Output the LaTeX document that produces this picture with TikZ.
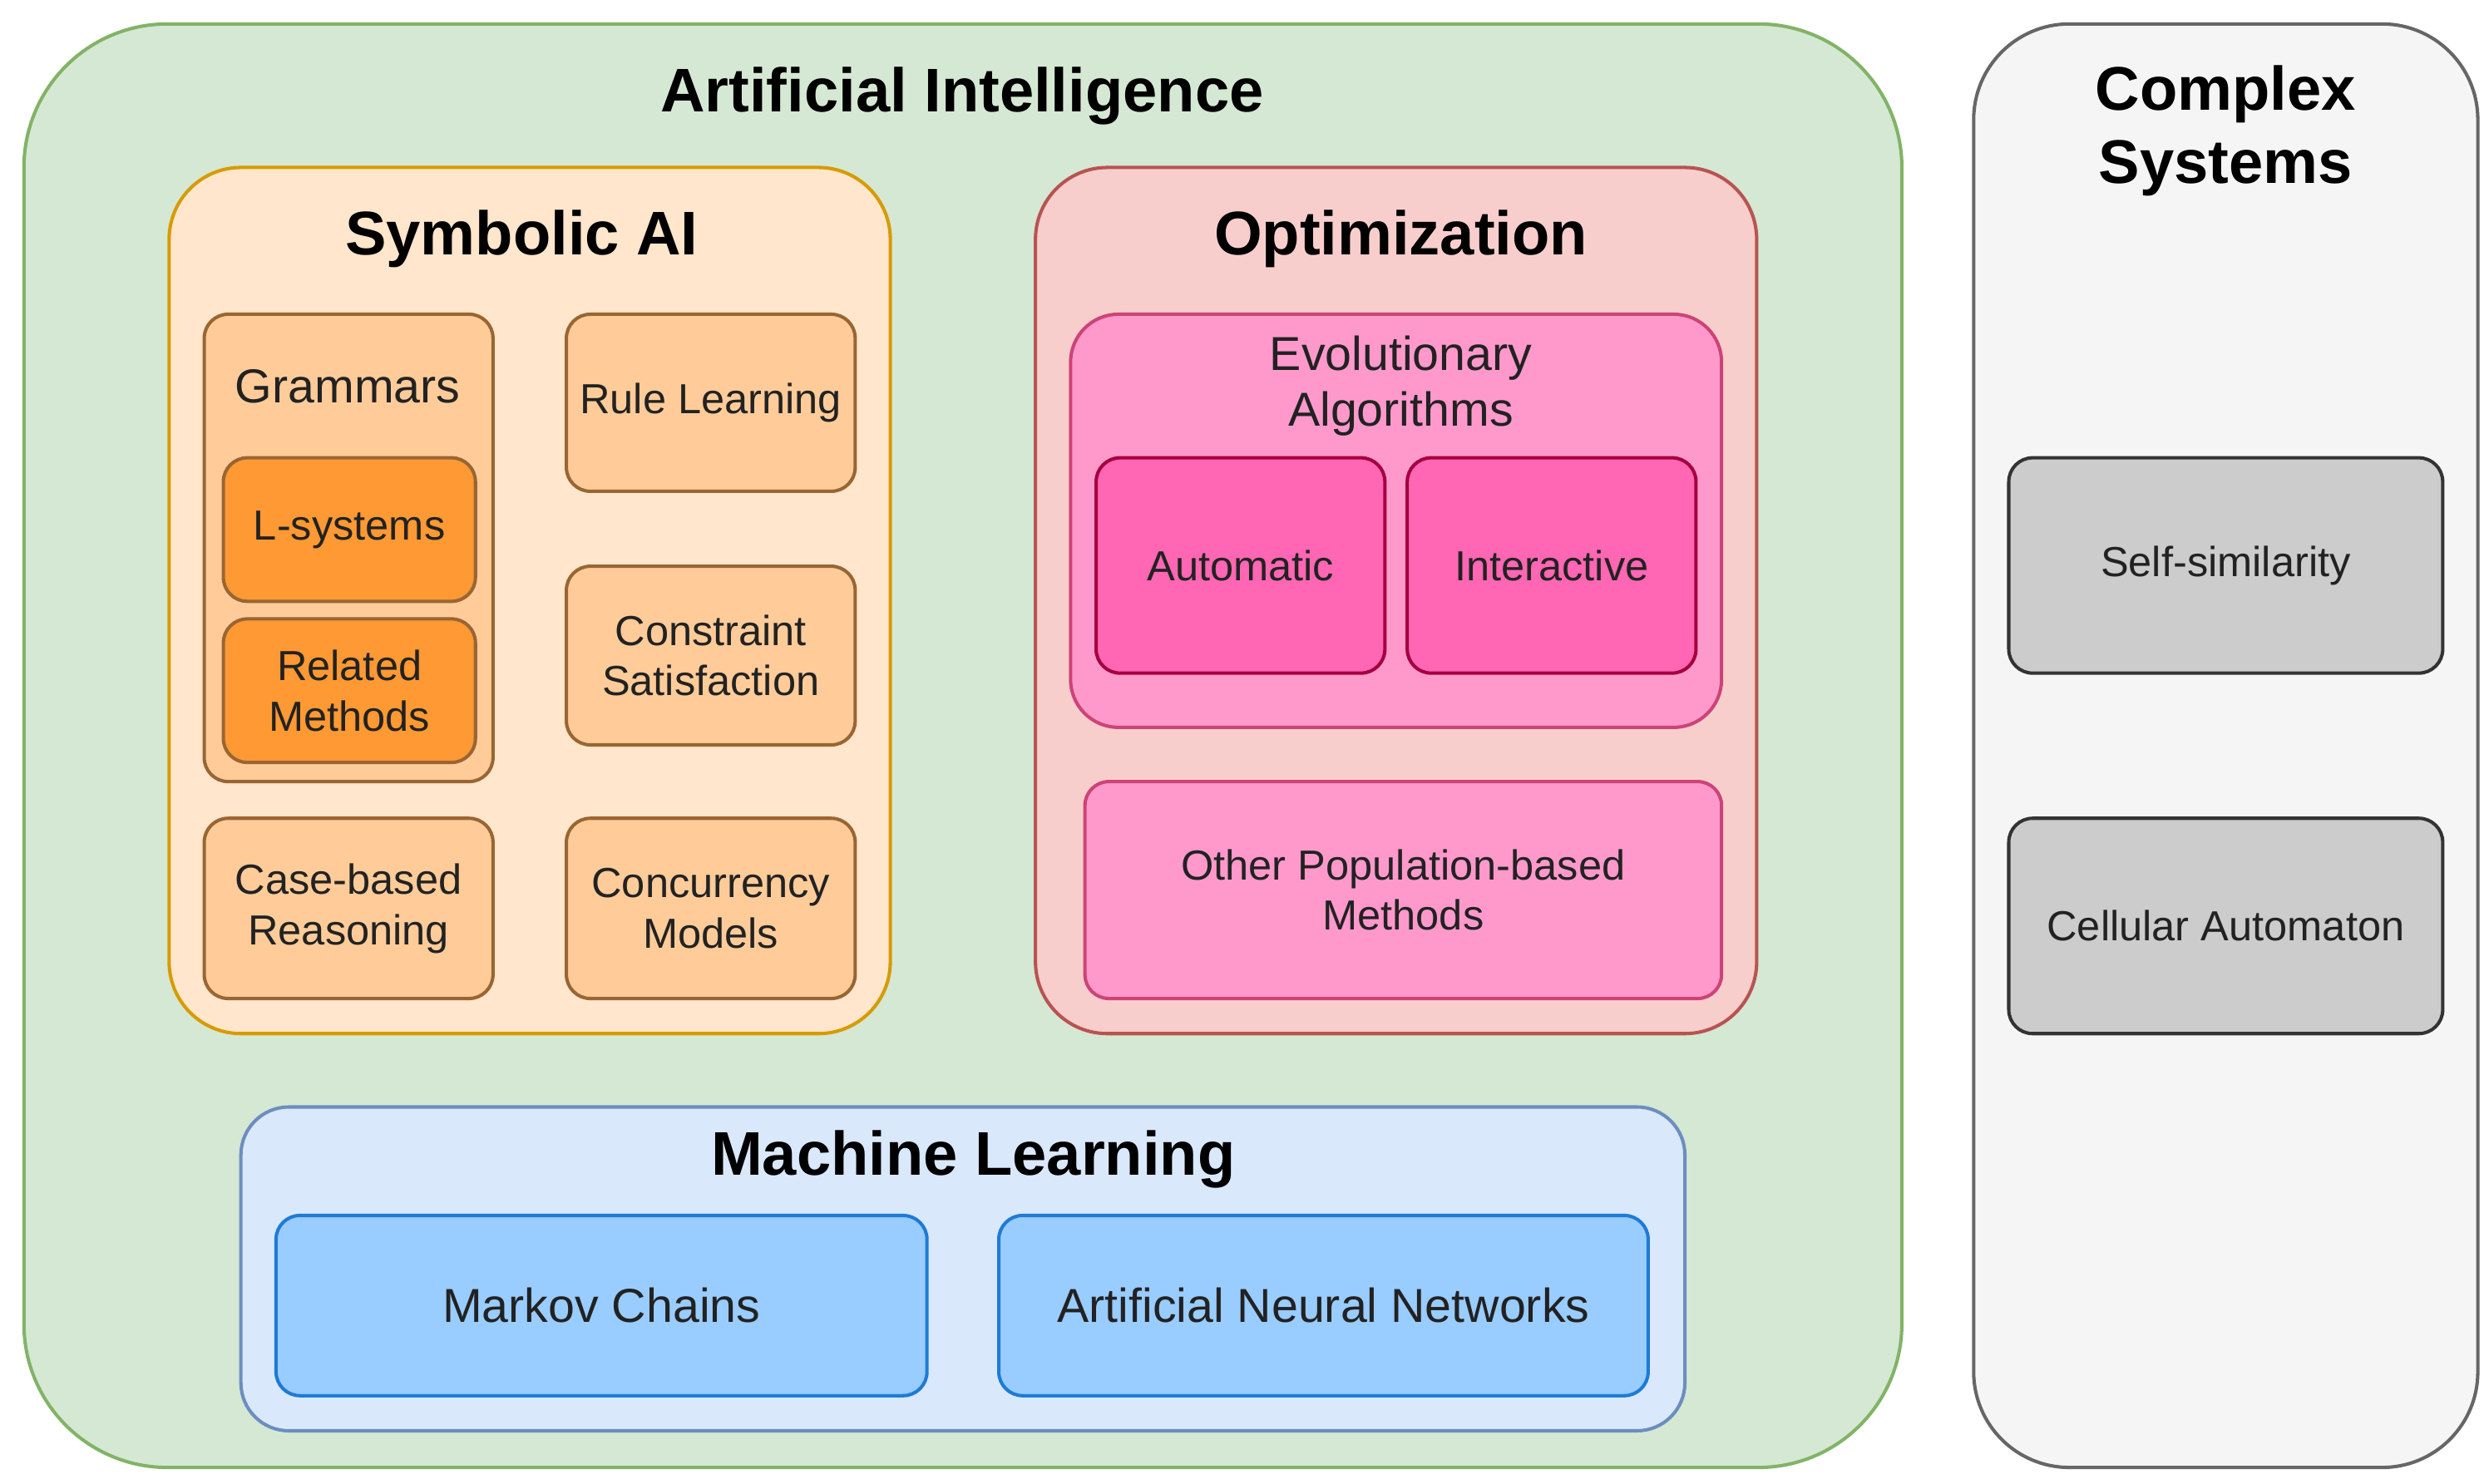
\documentclass[tikz,border=0pt]{standalone}
\usepackage{fontspec}
\setmainfont{Liberation Sans}
\usetikzlibrary{fit}
\definecolor{gF}{HTML}{D5E8D4}\definecolor{gS}{HTML}{82B366}
\definecolor{wF}{HTML}{F5F5F5}\definecolor{wS}{HTML}{666666}
\definecolor{oF}{HTML}{FFE6CC}\definecolor{oS}{HTML}{D79B00}
\definecolor{o2F}{HTML}{FFCC99}\definecolor{o2S}{HTML}{996633}
\definecolor{o3F}{HTML}{FF9933}
\definecolor{rF}{HTML}{F8CECC}\definecolor{rS}{HTML}{B85450}
\definecolor{pF}{HTML}{FF99CC}\definecolor{pS}{HTML}{CC4477}
\definecolor{p2F}{HTML}{FF66B3}\definecolor{p2S}{HTML}{A50040}
\definecolor{bF}{HTML}{DAE8FC}\definecolor{bS}{HTML}{6C8EBF}
\definecolor{b2F}{HTML}{99CCFF}\definecolor{b2S}{HTML}{1E7BD6}
\definecolor{cF}{HTML}{CCCCCC}\definecolor{cS}{HTML}{333333}
\definecolor{txt}{HTML}{222222}
\tikzset{
 base/.style={draw, line width=1.2pt, inner sep=0pt, rounded corners=0.3cm},
 big/.style={base, rounded corners=0.9cm},
 title/.style={font=\fontsize{22}{26}\selectfont\bfseries, text=black, align=center},
 lbl/.style={font=\fontsize{15}{18}\selectfont, text=txt, align=center},
 lblL/.style={font=\fontsize{17}{20}\selectfont, text=txt, align=center},
}
\begin{document}
\begin{tikzpicture}[x=0.02cm,y=-0.02cm]
\useasboundingbox (0,0) rectangle (1560,930);
% containers
\node[base, rounded corners=1.8cm, fill=gF, draw=gS, fit={(15,15)(1192,920)}] (ai) {};
\node[title] (ait) at (603,60) {Artificial Intelligence};
\node[base, rounded corners=1.2cm, fill=wF, draw=wS, fit={(1237,15)(1553,920)}] (cs) {};
\node[title, text width=6cm] (cst) at (1395,82) {Complex\\Systems};
\node[big, fill=oF, draw=oS, fit={(106,105)(558,648)}] (sym) {};
\node[title] (symt) at (327,150) {Symbolic AI};
\node[big, fill=rF, draw=rS, fit={(649,105)(1101,648)}] (opt) {};
\node[title] (optt) at (878,150) {Optimization};
\node[big, rounded corners=0.6cm, fill=bF, draw=bS, fit={(151,694)(1056,897)}] (ml) {};
\node[title] (mlt) at (610,727) {Machine Learning};
% symbolic
\node[base, fill=o2F, draw=o2S, fit={(128,197)(309,490)}] (gr) {};
\node[lblL] at (218,242) {Grammars};
\node[base, fill=o3F, draw=o2S, fit={(140,287)(298,377)}] (ls) {};
\node[lbl] at (ls.center) {L-systems};
\node[base, fill=o3F, draw=o2S, fit={(140,388)(298,478)}] (rm) {};
\node[lbl] at (rm.center) {Related\\Methods};
\node[base, fill=o2F, draw=o2S, fit={(355,197)(536,308)}] (rl) {};
\node[lbl] at (rl.center) {Rule Learning};
\node[base, fill=o2F, draw=o2S, fit={(355,355)(536,467)}] (cons) {};
\node[lbl] at (cons.center) {Constraint\\Satisfaction};
\node[base, fill=o2F, draw=o2S, fit={(128,513)(309,626)}] (cb) {};
\node[lbl] at (cb.center) {Case-based\\Reasoning};
\node[base, fill=o2F, draw=o2S, fit={(355,513)(536,626)}] (cm) {};
\node[lbl] at (cm.center) {Concurrency\\Models};
% optimization
\node[base, rounded corners=0.6cm, fill=pF, draw=pS, fit={(671,197)(1079,456)}] (ea) {};
\node[lblL] at (878,242) {Evolutionary\\Algorithms};
\node[base, fill=p2F, draw=p2S, fit={(687,287)(868,422)}] (au) {};
\node[lbl] at (au.center) {Automatic};
\node[base, fill=p2F, draw=p2S, fit={(882,287)(1063,422)}] (in) {};
\node[lbl] at (in.center) {Interactive};
\node[base, fill=pF, draw=pS, fit={(680,490)(1079,626)}] (op) {};
\node[lbl] at (op.center) {Other Population-based\\Methods};
% ML
\node[base, fill=b2F, draw=b2S, fit={(173,762)(581,875)}] (mc) {};
\node[lblL] at (mc.center) {Markov Chains};
\node[base, fill=b2F, draw=b2S, fit={(626,762)(1033,875)}] (ann) {};
\node[lblL] at (ann.center) {Artificial Neural Networks};
% complex
\node[base, fill=cF, draw=cS, fit={(1259,287)(1531,422)}] (ss) {};
\node[lbl] at (ss.center) {Self-similarity};
\node[base, fill=cF, draw=cS, fit={(1259,513)(1531,648)}] (ca) {};
\node[lbl] at (ca.center) {Cellular Automaton};
\end{tikzpicture}
\end{document}
